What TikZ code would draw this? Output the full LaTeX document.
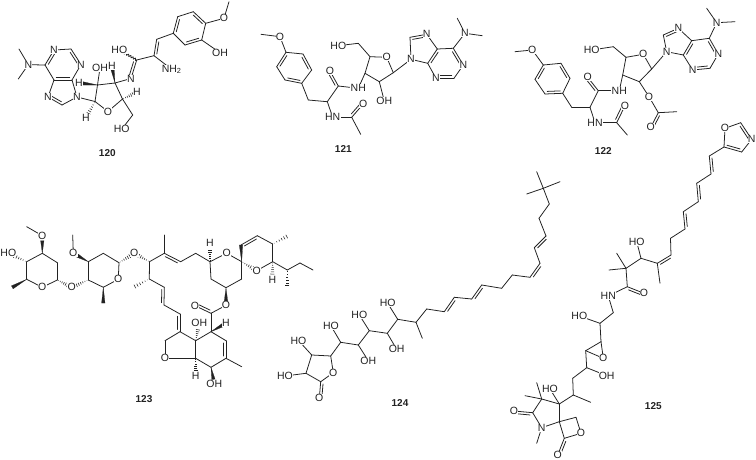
\documentclass[tikz,border=0pt]{standalone}
\usepackage{fontspec}
\setmainfont{Liberation Sans}
\usetikzlibrary{calc,decorations.pathmorphing}
\definecolor{ink}{HTML}{222222}
\tikzset{
  bond/.style={draw=ink,line width=.78pt,line cap=round,line join=round},
  hashline/.style={draw=ink,line width=.55pt},
  wedgefill/.style={fill=ink,draw=ink,line width=.2pt},
  atomlbl/.style={fill=white,inner sep=.3pt,text=ink,font=\fontsize{10.5}{10.5}\selectfont},
  caption/.style={text=ink,font=\fontsize{10}{10}\selectfont\bfseries,inner sep=0pt},
  wavy/.style={bond,decorate,decoration={snake,amplitude=1pt,segment length=2.6pt}}
}
% second line of a double bond, to the right or left of the direction a->b
\newcommand\bondR[2]{\draw[bond] ($(#1)!.13!(#2)!2.5pt!-90:(#2)$) -- ($(#2)!.13!(#1)!2.5pt!90:(#1)$);}
\newcommand\bondL[2]{\draw[bond] ($(#1)!.13!(#2)!2.5pt!90:(#2)$) -- ($(#2)!.13!(#1)!2.5pt!-90:(#1)$);}
\newcommand\wdg[3][1]{\coordinate (tmpE) at ($(#2)!#1!(#3)$);
  \fill[wedgefill] (#2) -- ($(tmpE)!1.7pt!90:(#2)$) -- ($(tmpE)!1.7pt!-90:(#2)$) -- cycle;}
\newcommand\hsh[3][1]{\coordinate (tmpE) at ($(#2)!#1!(#3)$);
  \foreach \t in {.1,.26,.42,.58,.74,.9}
    \draw[hashline] ($(#2)!\t!(tmpE)!\t*2.2pt!90:(tmpE)$) -- ($(#2)!\t!(tmpE)!\t*2.2pt!-90:(tmpE)$);}
\begin{document}
\begin{tikzpicture}[x=1pt,y=-1pt]
\fill[white] (0,0) rectangle (756,460);
\useasboundingbox (0,0) rectangle (756,460);
% ---------- 120 ----------
\foreach \n/\x/\y in {a1/28.3/64.7,a2/19/49,a3/18.3/79,a4/45/65,a5/54/50,a6/71/49,a7/81/64.5,a8/72/80,a9/54/80,a10/48/97,a11/62/105,a12/77/97,a13/95/101.5,a14/97.5/85,a15/115/83,a16/122.5/99,a17/108/111.5,a18/100/68,a19/79/83,a20/112/66,a21/131/78.5,a22/136.7/60,a23/119.3/50,a24/154/55.7,a25/171.7/69.3,a26/156.7/39.3,a27/173.3/33.3,a28/177.7/16.7,a29/193.3/11.7,a30/205.7/23.3,a31/201.7/40,a32/185/45,a33/224/18.3,a34/229/1.7,a35/220/52.7,a36/137/92.3,a37/86/118,a38/132.7/115,a39/121.7/129.3}
  \coordinate (\n) at (\x,\y);
\foreach \p/\q in {a1/a2,a1/a3,a1/a4,a4/a5,a5/a6,a6/a7,a7/a8,a8/a9,a9/a4,a9/a10,a10/a11,a11/a12,a12/a8,a12/a13,a13/a14,a14/a15,a15/a16,a16/a17,a17/a13,a14/a18,a15/a21,a21/a22,a22/a24,a24/a25,a24/a26,a26/a27,a27/a28,a28/a29,a29/a30,a30/a31,a31/a32,a32/a27,a30/a33,a33/a34,a31/a35,a16/a38,a38/a39}
  \draw[bond] (\p) -- (\q);
\bondR{a4}{a5}\bondR{a6}{a7}\bondR{a8}{a9}\bondL{a10}{a11}\bondL{a21}{a22}\bondR{a24}{a26}\bondR{a27}{a28}\bondR{a29}{a30}\bondR{a31}{a32}
\draw[wavy] (a22) -- (a23);
\wdg[.8]{a14}{a19}\wdg[.8]{a15}{a20}\hsh[.8]{a16}{a36}\hsh[.8]{a13}{a37}
\foreach \n/\t in {a1/N,a5/N,a7/N,a10/N,a12/N,a17/O,a18/OH,a19/H,a20/H,a21/N,a23/HO,a25/{NH\textsubscript{2}},a33/O,a35/OH,a36/H,a37/H,a39/HO}
  \node[atomlbl] (L\n) at (\n) {\t};
\node[caption] (cap120) at (107.3,152.7) {120};
% ---------- 121 ----------
\foreach \n/\x/\y in {b1/465/33.3,b2/457.3/18.3,b3/482.3/35.7,b4/453.3/48.3,b5/463.3/65,b6/454/78.3,b7/436/78.3,b8/427.7/63.3,b9/437.3/49,b10/426.7/34.3,b11/410/37.3,b12/411/59.3,b13/393.3/72.7,b14/386.7/57.3,b15/370/56.7,b16/358.3/43.3,b17/338.3/45.7,b18/365/73.3,b19/379.3/81.7,b20/384.3/101,b21/358.3/88.3,b22/338.3/86,b23/330/71,b24/327.3/101.7,b25/308.3/100,b26/301.7/83.3,b27/285/80,b28/276.7/66.7,b29/286/52.3,b30/303/54,b31/311.7/70,b32/280/36.7,b33/261/34.3,b34/332.7/117.3,b35/351.7/117.3,b36/363.3/104,b37/360.7/134.3}
  \coordinate (\n) at (\x,\y);
\foreach \p/\q in {b1/b2,b1/b3,b1/b4,b4/b5,b5/b6,b6/b7,b7/b8,b8/b9,b9/b4,b9/b10,b10/b11,b11/b12,b12/b8,b12/b13,b13/b14,b14/b15,b15/b16,b16/b17,b15/b18,b18/b19,b19/b13,b19/b20,b18/b21,b21/b22,b22/b23,b22/b24,b24/b25,b25/b26,b26/b27,b27/b28,b28/b29,b29/b30,b30/b31,b31/b26,b29/b32,b32/b33,b24/b34,b34/b35,b35/b36,b35/b37}
  \draw[bond] (\p) -- (\q);
\bondR{b4}{b5}\bondR{b6}{b7}\bondR{b8}{b9}\bondL{b10}{b11}\bondL{b22}{b23}\bondL{b35}{b36}\bondR{b26}{b27}\bondR{b28}{b29}\bondR{b30}{b31}
\foreach \n/\t in {b1/N,b5/N,b7/N,b10/N,b12/N,b14/O,b17/HO,b20/OH,b21/NH,b23/O,b32/O,b34/HN,b36/O}
  \node[atomlbl] (L\n) at (\n) {\t};
\node[caption] (cap121) at (343.3,149) {121};
% ---------- 122 ----------
\foreach \n/\x/\y in {c1/716.7/22.7,c2/706.7/8.3,c3/735/21.7,c4/709.3/38.3,c5/718.3/54,c6/710/68.3,c7/692.7/70,c8/683.3/55,c9/691.7/40.7,c10/678.3/28.3,c11/663.3/35,c12/666.7/51.7,c13/651.7/69,c14/643.3/54.3,c15/626/57.3,c16/613.3/46.7,c17/591.7/50,c18/622.7/75,c19/639.3/81.7,c20/649/96.7,c21/658.3/112.7,c22/650.7/127.3,c23/676.7/111.7,c24/619.3/90.7,c25/598.3/90.7,c26/587.7/77.3,c27/590/107.3,c28/571.7/107.3,c29/562.7/93.3,c30/545/94,c31/535/79.3,c32/543.3/65,c33/561/63.3,c34/570/78.3,c35/532.3/50,c36/515/51.7,c37/595/122.7,c38/616.7/122.7,c39/625/105.7,c40/627.3/135}
  \coordinate (\n) at (\x,\y);
\foreach \p/\q in {c1/c2,c1/c3,c1/c4,c4/c5,c5/c6,c6/c7,c7/c8,c8/c9,c9/c4,c9/c10,c10/c11,c11/c12,c12/c8,c12/c13,c13/c14,c14/c15,c15/c16,c16/c17,c15/c18,c18/c19,c19/c13,c19/c20,c20/c21,c21/c22,c21/c23,c18/c24,c24/c25,c25/c26,c25/c27,c27/c28,c28/c29,c29/c30,c30/c31,c31/c32,c32/c33,c33/c34,c34/c29,c32/c35,c35/c36,c27/c37,c37/c38,c38/c39,c38/c40}
  \draw[bond] (\p) -- (\q);
\bondR{c4}{c5}\bondR{c6}{c7}\bondR{c8}{c9}\bondL{c10}{c11}\bondL{c25}{c26}\bondL{c38}{c39}\bondL{c21}{c22}\bondR{c29}{c30}\bondR{c31}{c32}\bondR{c33}{c34}
\foreach \n/\t in {c1/N,c5/N,c7/N,c10/N,c12/N,c14/O,c17/HO,c20/O,c22/O,c24/NH,c26/O,c35/O,c37/HN,c39/O}
  \node[atomlbl] (L\n) at (\n) {\t};
\node[caption] (cap122) at (603.3,150.7) {122};
% ---------- 123 ----------
\foreach \n/\x/\y in {d1/42.3/287.3,d2/26.7/279.3,d3/26.7/261.7,d4/42.3/253.3,d5/57.3/262.7,d6/57.3/280,d7/12.3/287.3,d8/8.3/253.3,d9/42.3/235.7,d10/26.7/226.7,d11/71.7/287.3,d12/88.3/280,d13/103.3/287.3,d14/118.3/279.3,d15/119/262.7,d16/103.3/253.3,d17/88.3/261.7,d18/73.3/253.3,d19/72.7/235,d20/103.3/303,d21/134.3/253.3,d22/149.5/261.7,d23/164.3/253.3,d24/164.3/235,d25/180.7/261.7,d26/195.7/253.3,d27/210/261.7,d28/210/243.3,d29/226.7/253.3,d30/241.7/261.7,d31/241.7/279,d32/226/287.7,d33/211/279,d34/226/305.3,d35/241/245,d36/257.3/235.7,d37/272.7/244,d38/272.7/261.7,d39/256.7/270.7,d40/288.3/235.7,d41/272.3/280,d42/287.3/270,d43/300/263,d44/313/270,d45/287.3/287.3,d46/149.3/279,d47/133.3/287.3,d48/164.3/287.3,d49/164/305,d50/180/314,d51/180/331.7,d52/165/340.7,d53/165/358.3,d54/195.7/358.3,d55/195.7/340.7,d56/199.3/323.3,d57/211/331.7,d58/211/313.3,d59/195/305.7,d60/226/323.3,d61/226/340.7,d62/226/358.3,d63/241.7/366.7,d64/211/367.3,d65/214.3/384,d66/195.7/376}
  \coordinate (\n) at (\x,\y);
\foreach \p/\q in {d1/d2,d2/d3,d3/d4,d4/d5,d5/d6,d6/d1,d9/d10,d12/d13,d13/d14,d14/d15,d15/d16,d16/d17,d17/d12,d18/d19,d22/d23,d23/d24,d23/d25,d25/d26,d26/d27,d27/d29,d29/d30,d30/d31,d31/d32,d32/d33,d33/d27,d35/d36,d36/d37,d37/d38,d38/d39,d38/d42,d42/d43,d43/d44,d22/d46,d46/d48,d48/d49,d49/d50,d50/d51,d51/d52,d52/d53,d53/d54,d54/d55,d55/d51,d55/d57,d57/d58,d58/d59,d58/d34,d57/d61,d61/d62,d62/d63,d62/d64,d64/d54}
  \draw[bond] (\p) -- (\q);
\bondR{d23}{d25}\bondR{d35}{d36}\bondR{d48}{d49}\bondR{d50}{d51}\bondR{d61}{d62}\bondR{d58}{d59}
\wdg{d2}{d7}\wdg[.72]{d4}{d9}\wdg[.72]{d17}{d18}\wdg{d13}{d20}\wdg[.75]{d32}{d34}\wdg{d30}{d35}\wdg[.8]{d57}{d60}\wdg[.72]{d64}{d65}
\hsh[.75]{d3}{d8}\hsh[.78]{d6}{d11}\hsh[.78]{d12}{d11}\hsh[.78]{d15}{d21}\hsh[.78]{d22}{d21}\hsh[.72]{d27}{d28}\hsh[.8]{d30}{d39}\hsh{d37}{d40}\hsh[.75]{d38}{d41}\hsh{d42}{d45}\hsh{d46}{d47}\hsh[.7]{d55}{d56}\hsh[.75]{d54}{d66}
\foreach \n/\t in {d1/O,d8/HO,d9/O,d11/O,d14/O,d18/O,d21/O,d28/H,d29/O,d34/O,d39/O,d41/H,d53/O,d56/OH,d59/O,d60/H,d65/OH,d66/H}
  \node[atomlbl] (L\n) at (\n) {\t};
\node[caption] (cap123) at (144,399) {123};
% ---------- 124 ----------
\foreach \n/\x/\y in {e1/333.3/372.7,e2/320.7/381.7,e3/319.3/398.3,e4/306/373.3,e5/311.7/355,e6/330.7/356,e7/298.5/340.5,e8/285/376,e9/340.7/342.3,e10/331/326,e11/358.3/345,e12/368.3/360.7,e13/369.3/330.7,e14/359.3/315,e15/387.3/333.3,e16/396.7/349.3,e17/397.7/319.3,e18/387.7/303.3,e19/416/322.3,e20/422.3/338.3,e21/426.7/309,e22/444.3/311.7,e23/454.3/297.3,e24/471.7/299,e25/481.7/285,e26/501.7/288.3,e27/512.3/275,e28/530/277.3,e29/540/263.3,e30/534.3/247.7,e31/546/236,e32/539/218.3,e33/549.3/204,e34/543.3/188.3,e35/536.7/171.7,e36/560/181.7,e37/526.7/194}
  \coordinate (\n) at (\x,\y);
\foreach \p/\q in {e1/e2,e2/e3,e2/e4,e4/e5,e5/e6,e6/e1,e5/e7,e4/e8,e6/e9,e9/e10,e9/e11,e11/e12,e11/e13,e13/e14,e13/e15,e15/e16,e15/e17,e17/e18,e17/e19,e19/e20,e19/e21,e21/e22,e22/e23,e23/e24,e24/e25,e25/e26,e26/e27,e27/e28,e28/e29,e29/e30,e30/e31,e31/e32,e32/e33,e33/e34,e34/e35,e34/e36,e34/e37}
  \draw[bond] (\p) -- (\q);
\bondR{e22}{e23}\bondR{e24}{e25}\bondR{e28}{e29}\bondR{e30}{e31}\bondL{e2}{e3}
\foreach \n/\t in {e1/O,e3/O,e7/HO,e8/HO,e10/HO,e12/OH,e14/HO,e16/OH,e18/HO}
  \node[atomlbl] (L\n) at (\n) {\t};
\node[caption] (cap124) at (400,403) {124};
% ---------- 125 ----------
\foreach \n/\x/\y in {f1/532.7/412.7,f2/514/411,f3/541.7/427.7,f4/536.7/443.3,f5/559.3/421.7,f6/559.3/404,f7/541.7/399,f8/536.7/382.7,f9/525/395.7,f10/550/389,f11/573.3/395,f12/590.7/402.3,f13/572.7/378.3,f14/586.7/367.7,f15/606.7/375.7,f16/585.7/350.7,f17/601/341.7,f18/603.3/358.3,f19/600/323.3,f20/613.3/312.7,f21/579.3/316,f22/608.3/296,f23/627.3/286.7,f24/644/293.3,f25/626/268.3,f26/616.7/253.3,f27/609/270,f28/641/258.3,f29/636.7/241.7,f30/657.3/263.3,f31/660/283.3,f32/671/255,f33/670.5/238.3,f34/685/229,f35/683.3/211.7,f36/698.3/201.7,f37/696.7/183.3,f38/711/174,f39/709.3/156,f40/724/147,f41/741.7/152,f42/751.7/139.3,f43/740.7/122.7,f44/725/128.3,f45/576/417.3,f46/581/433.3,f47/564.3/438.3,f48/557.7/455}
  \coordinate (\n) at (\x,\y);
\foreach \p/\q in {f1/f2,f1/f3,f3/f4,f3/f5,f5/f6,f6/f7,f7/f1,f7/f8,f7/f9,f6/f10,f6/f11,f11/f12,f11/f13,f13/f14,f14/f15,f14/f16,f16/f17,f17/f18,f18/f16,f17/f19,f19/f20,f19/f21,f20/f22,f22/f23,f23/f24,f23/f25,f25/f26,f25/f27,f25/f28,f28/f29,f28/f30,f30/f31,f30/f32,f32/f33,f33/f34,f34/f35,f35/f36,f36/f37,f37/f38,f38/f39,f39/f40,f40/f41,f41/f42,f42/f43,f43/f44,f44/f40,f5/f45,f45/f46,f46/f47,f47/f5,f47/f48}
  \draw[bond] (\p) -- (\q);
\bondL{f1}{f2}\bondR{f23}{f24}\bondR{f30}{f32}\bondR{f34}{f35}\bondR{f36}{f37}\bondR{f38}{f39}\bondL{f40}{f41}\bondL{f42}{f43}\bondL{f47}{f48}
\foreach \n/\t in {f2/O,f3/N,f10/HO,f15/OH,f18/O,f21/HO,f22/HN,f24/O,f29/HO,f42/N,f44/O,f46/O,f48/O}
  \node[atomlbl] (L\n) at (\n) {\t};
\node[caption] (cap125) at (653.3,406) {125};
\end{tikzpicture}
\end{document}
